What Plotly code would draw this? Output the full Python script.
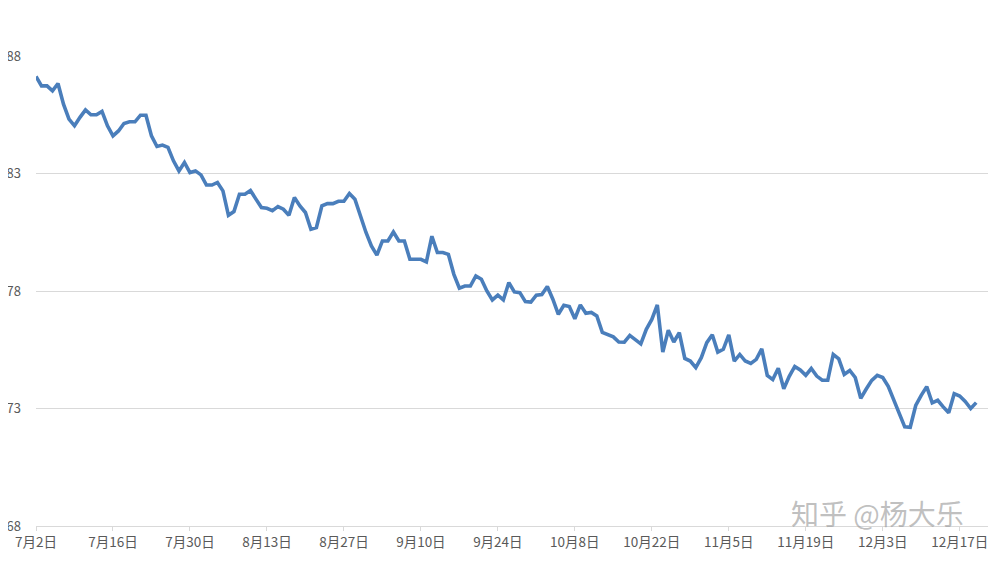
import pandas as pd
import plotly.graph_objects as go

start_date = "2023-07-02"
values = [
    87.13, 86.73, 86.73, 86.52, 86.83, 85.95, 85.31, 85.03, 85.39, 85.71,
    85.50, 85.50, 85.64, 85.03, 84.60, 84.81, 85.13, 85.20, 85.20, 85.48,
    85.48, 84.60, 84.15, 84.21, 84.11, 83.54, 83.11, 83.47, 83.04, 83.11,
    82.94, 82.51, 82.51, 82.62, 82.26, 81.22, 81.38, 82.12, 82.12, 82.28,
    81.91, 81.55, 81.52, 81.42, 81.59, 81.48, 81.22, 81.98, 81.62, 81.34,
    80.63, 80.70, 81.62, 81.72, 81.72, 81.82, 81.82, 82.15, 81.91, 81.19,
    80.50, 79.92, 79.53, 80.13, 80.13, 80.51, 80.13, 80.13, 79.35, 79.35,
    79.35, 79.24, 80.33, 79.64, 79.64, 79.56, 78.71, 78.12, 78.21, 78.21,
    78.64, 78.50, 78.00, 77.62, 77.82, 77.62, 78.36, 77.96, 77.93, 77.55,
    77.53, 77.82, 77.85, 78.19, 77.65, 77.01, 77.39, 77.34, 76.82, 77.41,
    77.05, 77.09, 76.94, 76.24, 76.16, 76.05, 75.83, 75.82, 76.11, 75.94,
    75.75, 76.37, 76.79, 77.41, 75.40, 76.33, 75.83, 76.23, 75.13, 75.02,
    74.74, 75.16, 75.80, 76.14, 75.40, 75.52, 76.13, 75.02, 75.30, 75.02,
    74.92, 75.09, 75.54, 74.41, 74.23, 74.71, 73.84, 74.37, 74.79, 74.64,
    74.41, 74.70, 74.38, 74.20, 74.20, 75.30, 75.11, 74.45, 74.62, 74.32,
    73.43, 73.83, 74.20, 74.41, 74.32, 73.94, 73.35, 72.71, 72.22, 72.20,
    73.13, 73.56, 73.93, 73.24, 73.35, 73.07, 72.82, 73.63, 73.53, 73.30,
    73.00, 73.25,
]
dates = pd.date_range(start_date, periods=len(values), freq="D")

tick_dates = ["2023-07-02", "2023-07-16", "2023-07-30", "2023-08-13", "2023-08-27",
              "2023-09-10", "2023-09-24", "2023-10-08", "2023-10-22", "2023-11-05",
              "2023-11-19", "2023-12-03", "2023-12-17"]
tick_labels = ["7月2日", "7月16日", "7月30日", "8月13日", "8月27日", "9月10日", "9月24日",
               "10月8日", "10月22日", "11月5日", "11月19日", "12月3日", "12月17日"]
y_ticks = [68, 73, 78, 83, 88]

fig = go.Figure()
fig.add_trace(go.Scatter(
    x=dates, y=values, mode="lines",
    line=dict(color="#4a7ebb", width=3.6),
    hoverinfo="skip", showlegend=False,
))

font_family = "Noto Sans CJK SC, Microsoft YaHei, sans-serif"
# The page body has an 8px default margin; size the figure to compensate.
fig.update_layout(
    width=988, height=554,
    margin=dict(l=28, r=0, t=48, b=36),
    paper_bgcolor="white", plot_bgcolor="white",
    font=dict(family=font_family, color="#595959"),
    xaxis=dict(
        range=[pd.Timestamp("2023-07-02"), pd.Timestamp("2023-07-02") + pd.Timedelta(days=174.6)],
        tickvals=pd.to_datetime(tick_dates), ticktext=tick_labels,
        tickfont=dict(size=13.5, color="#595959", family=font_family),
        showgrid=False, showline=True, linecolor="#d9d9d9", linewidth=1,
        ticks="outside", ticklen=4, tickcolor="#d9d9d9", tickwidth=1,
        zeroline=False, automargin=False,
    ),
    yaxis=dict(
        range=[68, 88], tickvals=y_ticks,
        tickfont=dict(size=13, color="#595959", family=font_family),
        showgrid=True, gridcolor="#d9d9d9", gridwidth=1,
        showline=False, zeroline=False, ticks="",
        ticklabelstandoff=14, automargin=False,
    ),
    annotations=[dict(
        text="知乎 @杨大乐", xref="paper", yref="paper",
        x=0.877, y=0.027, xanchor="center", yanchor="middle",
        showarrow=False,
        font=dict(size=28, color="rgba(150,150,150,0.6)", family=font_family),
    )],
)

fig.write_html("out.html")
